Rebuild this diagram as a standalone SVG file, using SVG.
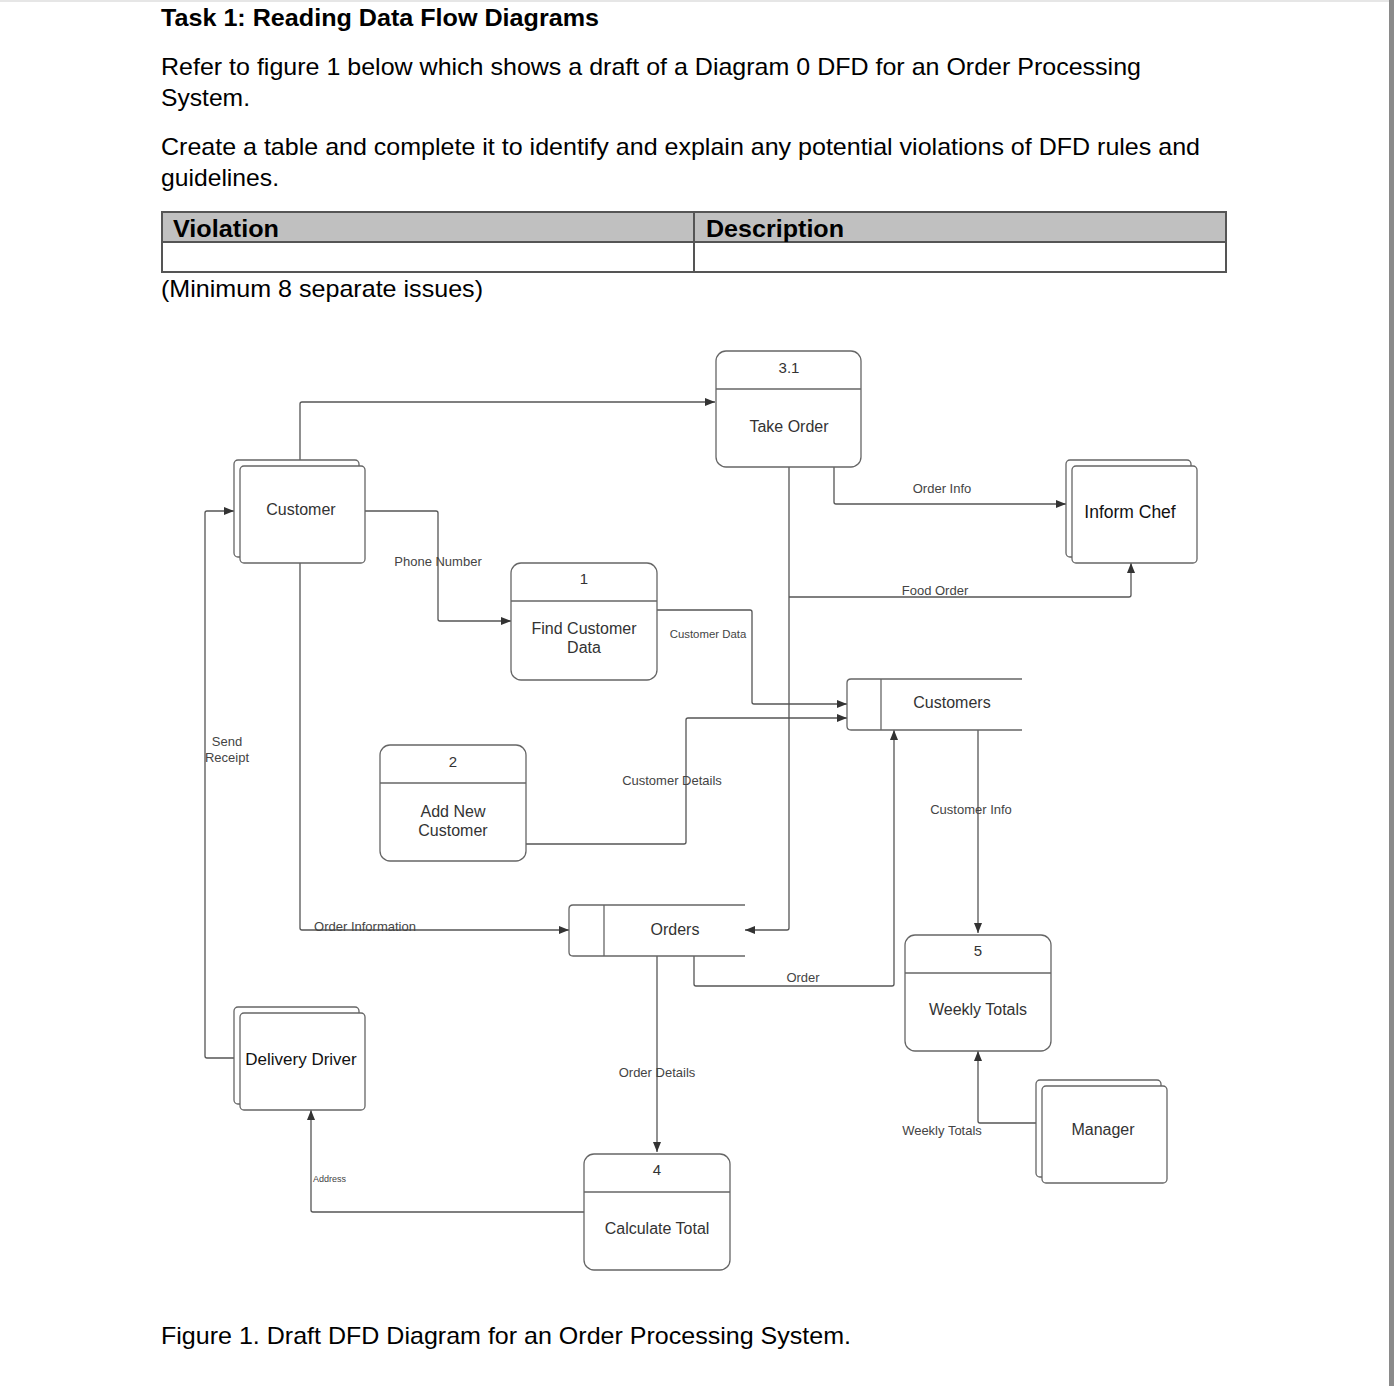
<svg xmlns="http://www.w3.org/2000/svg" width="1394" height="1386" viewBox="0 0 1394 1386">
<style>
.h{font-family:"Liberation Sans",Arial,sans-serif;fill:#000}
.hb{font-family:"Liberation Sans",Arial,sans-serif;font-weight:bold;fill:#000}
.t{font-family:"Liberation Sans",Arial,sans-serif;fill:#333;text-anchor:middle}
.lbl{font-family:"Liberation Sans",Arial,sans-serif;fill:#444;font-size:13px;text-anchor:middle}
.box{fill:#fff;stroke:#666;stroke-width:1.3}
.ln{fill:none;stroke:#666;stroke-width:1.3}
.fl{fill:none;stroke:#555;stroke-width:1.3;marker-end:url(#ah)}
</style>
<defs>
<marker id="ah" viewBox="0 0 10 8" refX="10" refY="4" markerWidth="10" markerHeight="8" markerUnits="userSpaceOnUse" orient="auto">
<path d="M0,0 L10,4 L0,8 Z" fill="#333"/>
</marker>
</defs>
<rect width="1394" height="1386" fill="#fff"/>
<rect x="0" y="0" width="1394" height="2" fill="#e6e6e6"/>
<rect x="1389" y="0" width="5" height="1386" fill="#8a8a8a"/>

<g id="header">
<text class="hb" x="161" y="26" font-size="24" textLength="438" lengthAdjust="spacingAndGlyphs">Task 1: Reading Data Flow Diagrams</text>
<text class="h" x="161" y="75" font-size="24" textLength="980" lengthAdjust="spacingAndGlyphs">Refer to figure 1 below which shows a draft of a Diagram 0 DFD for an Order Processing</text>
<text class="h" x="161" y="106" font-size="24" textLength="89" lengthAdjust="spacingAndGlyphs">System.</text>
<text class="h" x="161" y="155" font-size="24" textLength="1039" lengthAdjust="spacingAndGlyphs">Create a table and complete it to identify and explain any potential violations of DFD rules and</text>
<text class="h" x="161" y="186" font-size="24" textLength="118" lengthAdjust="spacingAndGlyphs">guidelines.</text>
</g>

<g id="table">
<rect x="162" y="212" width="1064" height="30" fill="#c0c0c0" stroke="#555" stroke-width="2"/>
<rect x="162" y="242" width="1064" height="30" fill="#fff" stroke="#555" stroke-width="2"/>
<line x1="694" y1="212" x2="694" y2="272" stroke="#555" stroke-width="2"/>
<text class="hb" x="173" y="237" font-size="24" textLength="106" lengthAdjust="spacingAndGlyphs">Violation</text>
<text class="hb" x="706" y="237" font-size="24" textLength="138" lengthAdjust="spacingAndGlyphs">Description</text>
<text class="h" x="161" y="297" font-size="24" textLength="322" lengthAdjust="spacingAndGlyphs">(Minimum 8 separate issues)</text>
</g>

<g id="connectors">
<path class="fl" d="M300,461 V404 Q300,402 302,402 H715"/>
<path class="fl" d="M365,511 H436 Q438,511 438,513 V619 Q438,621 440,621 H511"/>
<text class="lbl" x="438" y="566">Phone Number</text>
<path class="fl" d="M657,610 H750 Q752,610 752,612 V702 Q752,704 754,704 H847"/>
<text class="lbl" x="708" y="638" style="font-size:11.4px">Customer Data</text>
<path class="fl" d="M526,844 H684 Q686,844 686,842 V720 Q686,718 688,718 H847"/>
<text class="lbl" x="672" y="785">Customer Details</text>
<path class="fl" d="M789,467 V928 Q789,930 787,930 H745"/>
<path class="fl" d="M789,597 H1129 Q1131,597 1131,595 V563"/>
<text class="lbl" x="935" y="595">Food Order</text>
<path class="fl" d="M834,467 V502 Q834,504 836,504 H1066"/>
<text class="lbl" x="942" y="493">Order Info</text>
<path class="fl" d="M300,563 V928 Q300,930 302,930 H569"/>
<text class="lbl" x="365" y="931">Order Information</text>
<path class="fl" d="M694,956 V984 Q694,986 696,986 H892 Q894,986 894,984 V730"/>
<text class="lbl" x="803" y="982">Order</text>
<path class="fl" d="M657,956 V1152"/>
<text class="lbl" x="657" y="1077">Order Details</text>
<path class="fl" d="M584,1212 H313 Q311,1212 311,1210 V1110"/>
<text x="313" y="1182" style="font-family:'Liberation Sans',Arial,sans-serif;font-size:9px;fill:#444">Address</text>
<path class="fl" d="M240,1058 H207 Q205,1058 205,1056 V513 Q205,511 207,511 H234"/>
<text class="lbl" x="227" y="746">Send</text>
<text class="lbl" x="227" y="762">Receipt</text>
<path class="fl" d="M978,730 V933"/>
<text class="lbl" x="971" y="814">Customer Info</text>
<path class="fl" d="M1036,1123 H980 Q978,1123 978,1121 V1051"/>
<text class="lbl" x="942" y="1135">Weekly Totals</text>
</g>

<g id="customer">
<rect class="box" x="234" y="460" width="125" height="97" rx="4"/>
<rect class="box" x="240" y="466" width="125" height="97" rx="4"/>
<text class="t" x="301" y="515" font-size="16">Customer</text>
</g>

<g id="p31">
<rect class="box" x="716" y="351" width="145" height="116" rx="10"/>
<line class="ln" x1="716" y1="389" x2="861" y2="389"/>
<text class="t" x="789" y="373" font-size="15">3.1</text>
<text class="t" x="789" y="432" font-size="16">Take Order</text>
</g>

<g id="p1">
<rect class="box" x="511" y="563" width="146" height="117" rx="10"/>
<line class="ln" x1="511" y1="601" x2="657" y2="601"/>
<text class="t" x="584" y="584" font-size="15">1</text>
<text class="t" x="584" y="634" font-size="16">Find Customer</text>
<text class="t" x="584" y="653" font-size="16">Data</text>
</g>

<g id="p2">
<rect class="box" x="380" y="745" width="146" height="116" rx="10"/>
<line class="ln" x1="380" y1="783" x2="526" y2="783"/>
<text class="t" x="453" y="767" font-size="15">2</text>
<text class="t" x="453" y="817" font-size="16">Add New</text>
<text class="t" x="453" y="836" font-size="16">Customer</text>
</g>

<g id="customers-store">
<path class="box" d="M1022,679 H851 Q847,679 847,683 V726 Q847,730 851,730 H1022"/>
<line class="ln" x1="881" y1="679" x2="881" y2="730"/>
<text class="t" x="952" y="708" font-size="16">Customers</text>
</g>

<g id="orders-store">
<path class="box" d="M745,905 H573 Q569,905 569,909 V952 Q569,956 573,956 H745"/>
<line class="ln" x1="604" y1="905" x2="604" y2="956"/>
<text class="t" x="675" y="935" font-size="16">Orders</text>
</g>

<g id="inform-chef">
<rect class="box" x="1066" y="460" width="125" height="97" rx="4"/>
<rect class="box" x="1072" y="466" width="125" height="97" rx="4"/>
<text class="t" x="1130" y="518" font-size="17.5" style="fill:#111">Inform Chef</text>
</g>

<g id="delivery-driver">
<rect class="box" x="234" y="1007" width="125" height="97" rx="4"/>
<rect class="box" x="240" y="1013" width="125" height="97" rx="4"/>
<text class="t" x="301" y="1065" font-size="17" style="fill:#111">Delivery Driver</text>
</g>

<g id="p4">
<rect class="box" x="584" y="1154" width="146" height="116" rx="10"/>
<line class="ln" x1="584" y1="1192" x2="730" y2="1192"/>
<text class="t" x="657" y="1175" font-size="15">4</text>
<text class="t" x="657" y="1234" font-size="16">Calculate Total</text>
</g>

<g id="p5">
<rect class="box" x="905" y="935" width="146" height="116" rx="10"/>
<line class="ln" x1="905" y1="973" x2="1051" y2="973"/>
<text class="t" x="978" y="956" font-size="15">5</text>
<text class="t" x="978" y="1015" font-size="16">Weekly Totals</text>
</g>

<g id="manager">
<rect class="box" x="1036" y="1080" width="125" height="97" rx="4"/>
<rect class="box" x="1042" y="1086" width="125" height="97" rx="4"/>
<text class="t" x="1103" y="1135" font-size="16">Manager</text>
</g>

<text class="h" x="161" y="1344" font-size="24" textLength="690" lengthAdjust="spacingAndGlyphs">Figure 1. Draft DFD Diagram for an Order Processing System.</text>
</svg>
